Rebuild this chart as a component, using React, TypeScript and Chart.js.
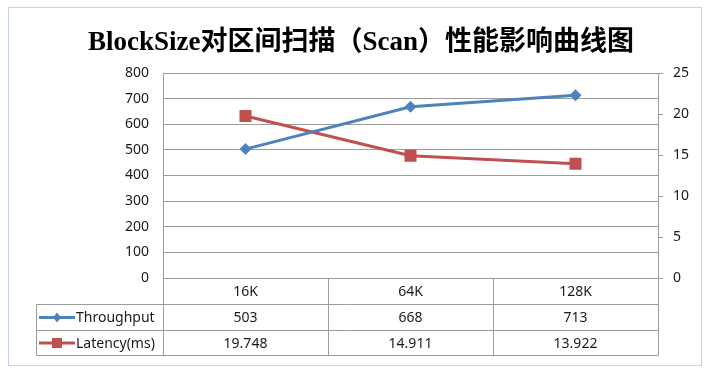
import React, { useEffect, useRef } from "react";
import { Chart, registerables } from "chart.js";

Chart.register(...registerables);

const titleText = "BlockSize对区间扫描（Scan）性能影响曲线图";
const categories = ["16K", "64K", "128K"];
const throughput = [503, 668, 713];
const latency = [19.748, 14.911, 13.922];
const throughputLabels = ["503", "668", "713"];
const latencyLabels = ["19.748", "14.911", "13.922"];
const seriesNames = ["Throughput", "Latency(ms)"];

const BLUE = "#4f81bd";
const RED = "#c0504d";
const GRID = "#9c9c9c";
const TEXT = "#1a1a1a";
const FONT = '"Noto Sans", "DejaVu Sans", sans-serif';

const tablePlugin = {
  id: "dataTable",
  afterDraw(chart: any) {
    const ctx = chart.ctx;
    const area = chart.chartArea;
    const xs = chart.scales.x;
    const left = area.left;
    const right = area.right;
    const bottom = area.bottom;
    const rowH = 26;
    const r1 = Math.round(bottom + rowH) + 0.5;
    const r2 = Math.round(bottom + rowH * 2) + 0.5;
    const r3 = Math.round(bottom + rowH * 3 - 1) + 0.5;
    const tableLeft = 36.5;
    ctx.save();
    ctx.strokeStyle = GRID;
    ctx.lineWidth = 1;
    ctx.beginPath();
    ctx.moveTo(tableLeft, r1); ctx.lineTo(right, r1);
    ctx.moveTo(tableLeft, r2); ctx.lineTo(right, r2);
    ctx.moveTo(tableLeft, r3); ctx.lineTo(right, r3);
    ctx.moveTo(tableLeft, r1); ctx.lineTo(tableLeft, r3);
    const colW = (right - left) / categories.length;
    for (let i = 0; i <= categories.length; i++) {
      const x = Math.round(left + i * colW) + 0.5;
      ctx.moveTo(x, bottom); ctx.lineTo(x, r3);
    }
    ctx.stroke();

    ctx.fillStyle = TEXT;
    ctx.font = "14px " + FONT;
    ctx.textAlign = "center";
    ctx.textBaseline = "middle";
    categories.forEach((c, i) => {
      const x = xs.getPixelForValue(i);
      ctx.fillText(c, x, (bottom + r1) / 2 + 1);
      ctx.fillText(throughputLabels[i], x, (r1 + r2) / 2 + 1);
      ctx.fillText(latencyLabels[i], x, (r2 + r3) / 2 + 1);
    });

    const keys = [
      { y: (r1 + r2) / 2, color: BLUE, shape: "diamond", name: seriesNames[0] },
      { y: (r2 + r3) / 2, color: RED, shape: "square", name: seriesNames[1] },
    ];
    keys.forEach((k) => {
      ctx.strokeStyle = k.color;
      ctx.lineWidth = 3;
      ctx.beginPath();
      ctx.moveTo(39, k.y);
      ctx.lineTo(75, k.y);
      ctx.stroke();
      ctx.fillStyle = k.color;
      ctx.beginPath();
      const cx = 57;
      if (k.shape === "diamond") {
        ctx.moveTo(cx, k.y - 5);
        ctx.lineTo(cx + 4, k.y);
        ctx.lineTo(cx, k.y + 5);
        ctx.lineTo(cx - 4, k.y);
        ctx.closePath();
      } else {
        ctx.rect(cx - 5, k.y - 5, 10, 10);
      }
      ctx.fill();
      ctx.fillStyle = TEXT;
      ctx.textAlign = "left";
      ctx.fillText(k.name, 76, k.y + 1);
    });

    ctx.fillStyle = "#000";
    ctx.font = 'bold 27px "Liberation Serif", "Noto Sans CJK SC", serif';
    ctx.textAlign = "center";
    ctx.textBaseline = "middle";
    ctx.fillText(titleText, 361, 43);

    ctx.strokeStyle = "#c6d4ea";
    ctx.lineWidth = 1;
    ctx.strokeRect(8.5, 7.5, 693, 358);
    ctx.restore();
  },
};

export default function App() {
  const ref = useRef<HTMLCanvasElement | null>(null);
  useEffect(() => {
    document.body.style.margin = "0";
    const canvas = ref.current;
    if (!canvas) return;
    const chart = new Chart(canvas, {
      type: "line",
      data: {
        labels: categories,
        datasets: [
          {
            label: seriesNames[0],
            data: throughput,
            yAxisID: "y",
            borderColor: BLUE,
            backgroundColor: BLUE,
            borderWidth: 3,
            pointStyle: "rectRot",
            pointRadius: 6,
            pointBorderWidth: 0,
            tension: 0,
          },
          {
            label: seriesNames[1],
            data: latency,
            yAxisID: "y1",
            borderColor: RED,
            backgroundColor: RED,
            borderWidth: 3,
            pointStyle: "rect",
            pointRadius: 8.5,
            pointBorderWidth: 0,
            tension: 0,
          },
        ],
      },
      options: {
        responsive: false,
        animation: false,
        layout: { padding: { top: 73, bottom: 97, left: 0, right: 0 } },
        plugins: {
          legend: { display: false },
          tooltip: { enabled: false },
          title: { display: false },
        },
        scales: {
          x: {
            type: "category",
            display: false,
            offset: true,
          },
          y: {
            position: "left",
            min: 0,
            max: 800,
            ticks: {
              stepSize: 100,
              padding: 14,
              color: TEXT,
              font: { size: 14, family: FONT },
            },
            grid: { color: GRID, drawTicks: false, lineWidth: 1 },
            border: { display: true, color: GRID },
            afterFit: (s: any) => {
              s.width = 163;
            },
          },
          y1: {
            position: "right",
            min: 0,
            max: 25,
            ticks: {
              stepSize: 5,
              padding: 10,
              color: TEXT,
              font: { size: 14, family: FONT },
            },
            grid: { color: GRID, drawOnChartArea: false, drawTicks: true, tickLength: 5 },
            border: { display: true, color: GRID },
            afterFit: (s: any) => {
              s.width = 60;
            },
          },
        },
      },
      plugins: [tablePlugin],
    });
    return () => chart.destroy();
  }, []);
  return (
    <div style={{ width: 718, height: 375 }}>
      <canvas ref={ref} width={718} height={375} style={{ display: "block" }} />
    </div>
  );
}
